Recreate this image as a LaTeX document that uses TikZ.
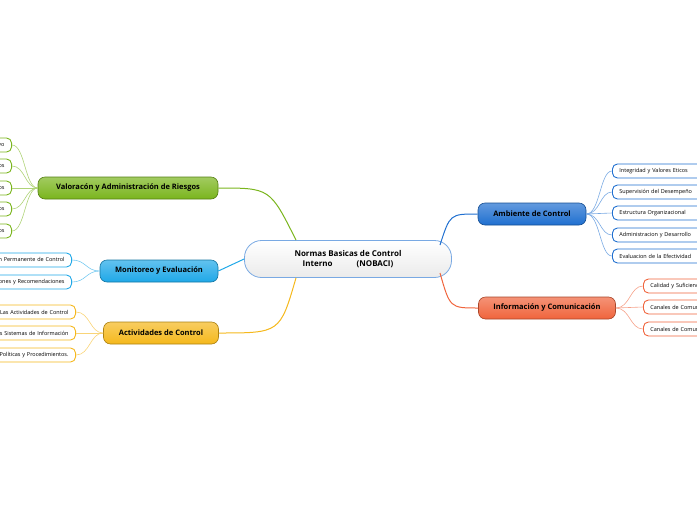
\documentclass[tikz,border=0pt]{standalone}
\usepackage{fontspec}
\setmainfont{Open Sans}
\begin{document}
\begin{tikzpicture}[x=1pt,y=-1pt,
 main/.style={rounded corners=7pt,draw=#1!70!black,line width=0.6pt,top color=#1!70!white,bottom color=#1,font=\bfseries\fontsize{7.5}{8}\selectfont,minimum height=22pt,inner xsep=8pt},
 leafR/.style={rounded corners=5pt,draw=#1,line width=0.9pt,fill=white,font=\fontsize{5.5}{6}\selectfont,minimum height=14pt,anchor=west,inner xsep=7pt,text width=120pt},
 leafL/.style={rounded corners=5pt,draw=#1,line width=0.9pt,fill=white,font=\fontsize{5.5}{6}\selectfont,minimum height=14pt,anchor=east,inner xsep=7pt,text width=110pt,align=right},
 conn/.style={draw=#1,line width=0.6pt}]
\useasboundingbox (0,0) rectangle (697,520);
\clip (0,0) rectangle (697,520);
\definecolor{cb}{HTML}{1F6FD0}\definecolor{co}{HTML}{F0643C}\definecolor{cg}{HTML}{7AB51D}
\definecolor{cl}{HTML}{1FA8E8}\definecolor{cy}{HTML}{F5B81C}
% center
\node[draw=cb!60,line width=0.8pt,rounded corners=17pt,minimum width=207pt,minimum height=37pt,top color=white,bottom color=black!8,align=center,font=\bfseries\fontsize{8}{9.5}\selectfont] (c) at (348,259) {Normas Basicas de Control\\Interno\hspace{3em}(NOBACI)};
% mains
\node[main=cb,minimum width=108pt] (a) at (532,214) {Ambiente de Control};
\node[main=co,minimum width=137pt] (i) at (547,308) {Información y Comunicación};
\node[main=cg,minimum width=180pt] (v) at (128,188) {Valoracón y Administración de Riesgos};
\node[main=cl,minimum width=118pt] (m) at (159,271) {Monitoreo y Evaluación};
\node[main=cy,minimum width=115pt] (ac) at (161,333) {Actividades de Control};
\coordinate (c1) at (440,245);
\coordinate (c2) at (440,273);
\draw[conn=cb,line width=1pt] (c1) .. controls (450,214) .. (a.west);
\draw[conn=co,line width=1pt] (c2) .. controls (450,308) .. (i.west);
\draw[conn=cg,line width=1pt] (v.east) .. controls (270,188) .. ([xshift=-52]c.north);
\draw[conn=cl,line width=1pt] (m.east) -- (c.west);
\draw[conn=cy,line width=1pt] (ac.east) .. controls (280,333) .. ([xshift=-52]c.south);
% right leaves
\foreach \y/\t [count=\k] in {171/Integridad y Valores Eticos,192/Supervisión del Desempeño,213/Estructura Organizacional,235/Administracion y Desarrollo,256/Evaluacion de la Efectividad}{
 \node[leafR=cb] (a\k) at (612,\y) {\t};
 \draw[conn=cb!60] (a.east) .. controls (600,214) and (600,\y) .. (a\k.west);}
\foreach \y/\t [count=\k] in {286/Calidad y Suficiencia,307/Canales de Comunicación,329/Canales de Comunicación}{
 \node[leafR=co] (i\k) at (643,\y) {\t};
 \draw[conn=co!60] (i.east) .. controls (630,308) and (630,\y) .. (i\k.west);}
% left leaves
\foreach \y/\t [count=\k] in {145/Objetivo,166/Riesgos,188/Riesgos,209/Riesgos,231/Riesgos}{
 \node[leafL=cg] (v\k) at (12,\y) {\t};
 \draw[conn=cg!60] (v.west) .. controls (25,188) and (25,\y) .. (v\k.east);}
\foreach \y/\t [count=\k] in {260/Supervisión Permanente de Control,282/Evaluaciones y Recomendaciones}{
 \node[leafL=cl] (m\k) at (72,\y) {\t};
 \draw[conn=cl!60] (m.west) .. controls (86,271) and (86,\y) .. (m\k.east);}
\foreach \y/\t [count=\k] in {312/Las Actividades de Control,333/Los Sistemas de Información,355/Las Políticas y Procedimientos.}{
 \node[leafL=cy] (y\k) at (76,\y) {\t};
 \draw[conn=cy!60] (ac.west) .. controls (90,333) and (90,\y) .. (y\k.east);}
\end{tikzpicture}
\end{document}
